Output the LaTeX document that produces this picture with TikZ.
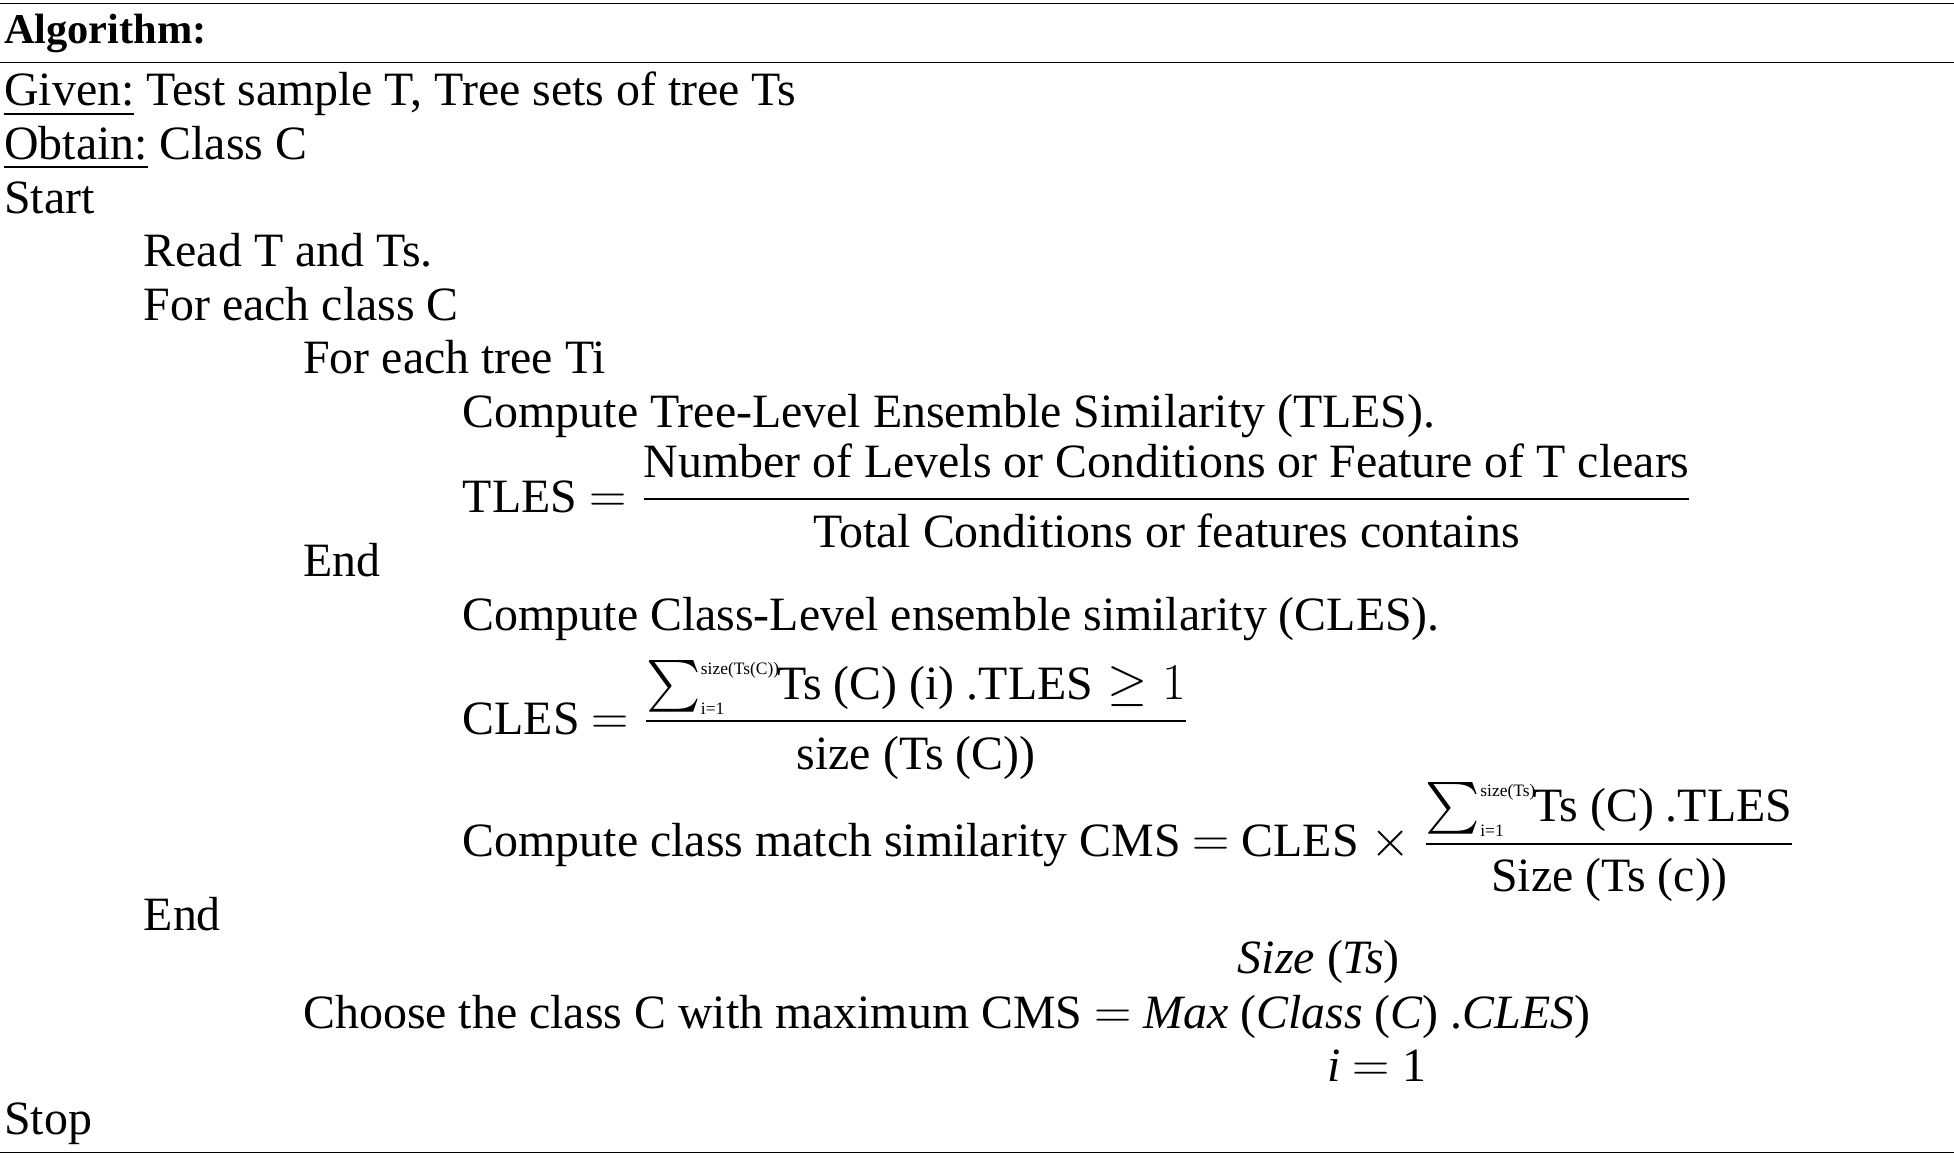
\documentclass[tikz,border=0pt]{standalone}
\usepackage{amsmath}
\usepackage{fontspec}
\setmainfont{Liberation Serif}
\begin{document}
\begin{tikzpicture}[x=0.5pt,y=-0.5pt,
  tx/.style={anchor=base west,inner sep=0pt,font=\fontsize{19.2}{22}\selectfont},
  eq/.style={anchor=west,inner sep=0pt,font=\fontsize{19.2}{22}\selectfont},
  rule/.style={line width=0.6pt}]
\useasboundingbox (0,0) rectangle (1568,929);
\coordinate (r1a) at (0,3); \coordinate (r1b) at (1568,3);
\coordinate (r2a) at (0,50); \coordinate (r2b) at (1568,50);
\coordinate (r3a) at (0,925); \coordinate (r3b) at (1568,925);
\draw[rule] (r1a) -- (r1b); \draw[rule] (r2a) -- (r2b); \draw[rule] (r3a) -- (r3b);
\node[tx,font=\fontsize{17}{20}\selectfont] (alg) at (3,35) {\textbf{Algorithm:}};
\node[tx] (giv) at (3,85) {\underline{Given:} Test sample T, Tree sets of tree Ts};
\node[tx] (obt) at (3,128) {\underline{Obtain:} Class C};
\node[tx] (sta) at (3,171) {Start};
\node[tx] (rd) at (115,214) {Read T and Ts.};
\node[tx] (fc) at (115,257) {For each class C};
\node[tx] (ft) at (243,300) {For each tree Ti};
\node[tx] (ct) at (371,343) {Compute Tree-Level Ensemble Similarity (TLES).};
\node[eq] (tl) at (371,398) {TLES $=\dfrac{\text{Number of Levels or Conditions or Feature of T clears}}{\text{Total Conditions or features contains}}$};
\node[tx] (e1) at (243,463) {End};
\node[tx] (cc) at (371,506) {Compute Class-Level ensemble similarity (CLES).};
\node[eq] (cl) at (371,578) {CLES $=\dfrac{\sum_{\text{\scriptsize i=1}}^{\text{\scriptsize size(Ts(C))}}\mkern-4mu\text{Ts (C) (i) .TLES} \geq 1}{\text{size (Ts (C))}}$};
\node[eq] (cm) at (371,676) {Compute class match similarity CMS $=$ CLES $\times\ \dfrac{\sum_{\text{\scriptsize i=1}}^{\text{\scriptsize size(Ts)}}\mkern-4mu\text{Ts (C) .TLES}}{\text{Size (Ts (c))}}$};
\node[tx] (e2) at (115,747) {End};
\node[tx] (sz) at (993,781) {\textit{Size} (\textit{Ts})};
\node[tx] (ch) at (243,825) {Choose the class C with maximum CMS $=$ \textit{Max} (\textit{Class} (\textit{C}) .\textit{CLES})};
\node[tx] (i1) at (1065,868) {\textit{i} $=$ 1};
\node[tx] (sto) at (3,910) {Stop};
\end{tikzpicture}
\end{document}
